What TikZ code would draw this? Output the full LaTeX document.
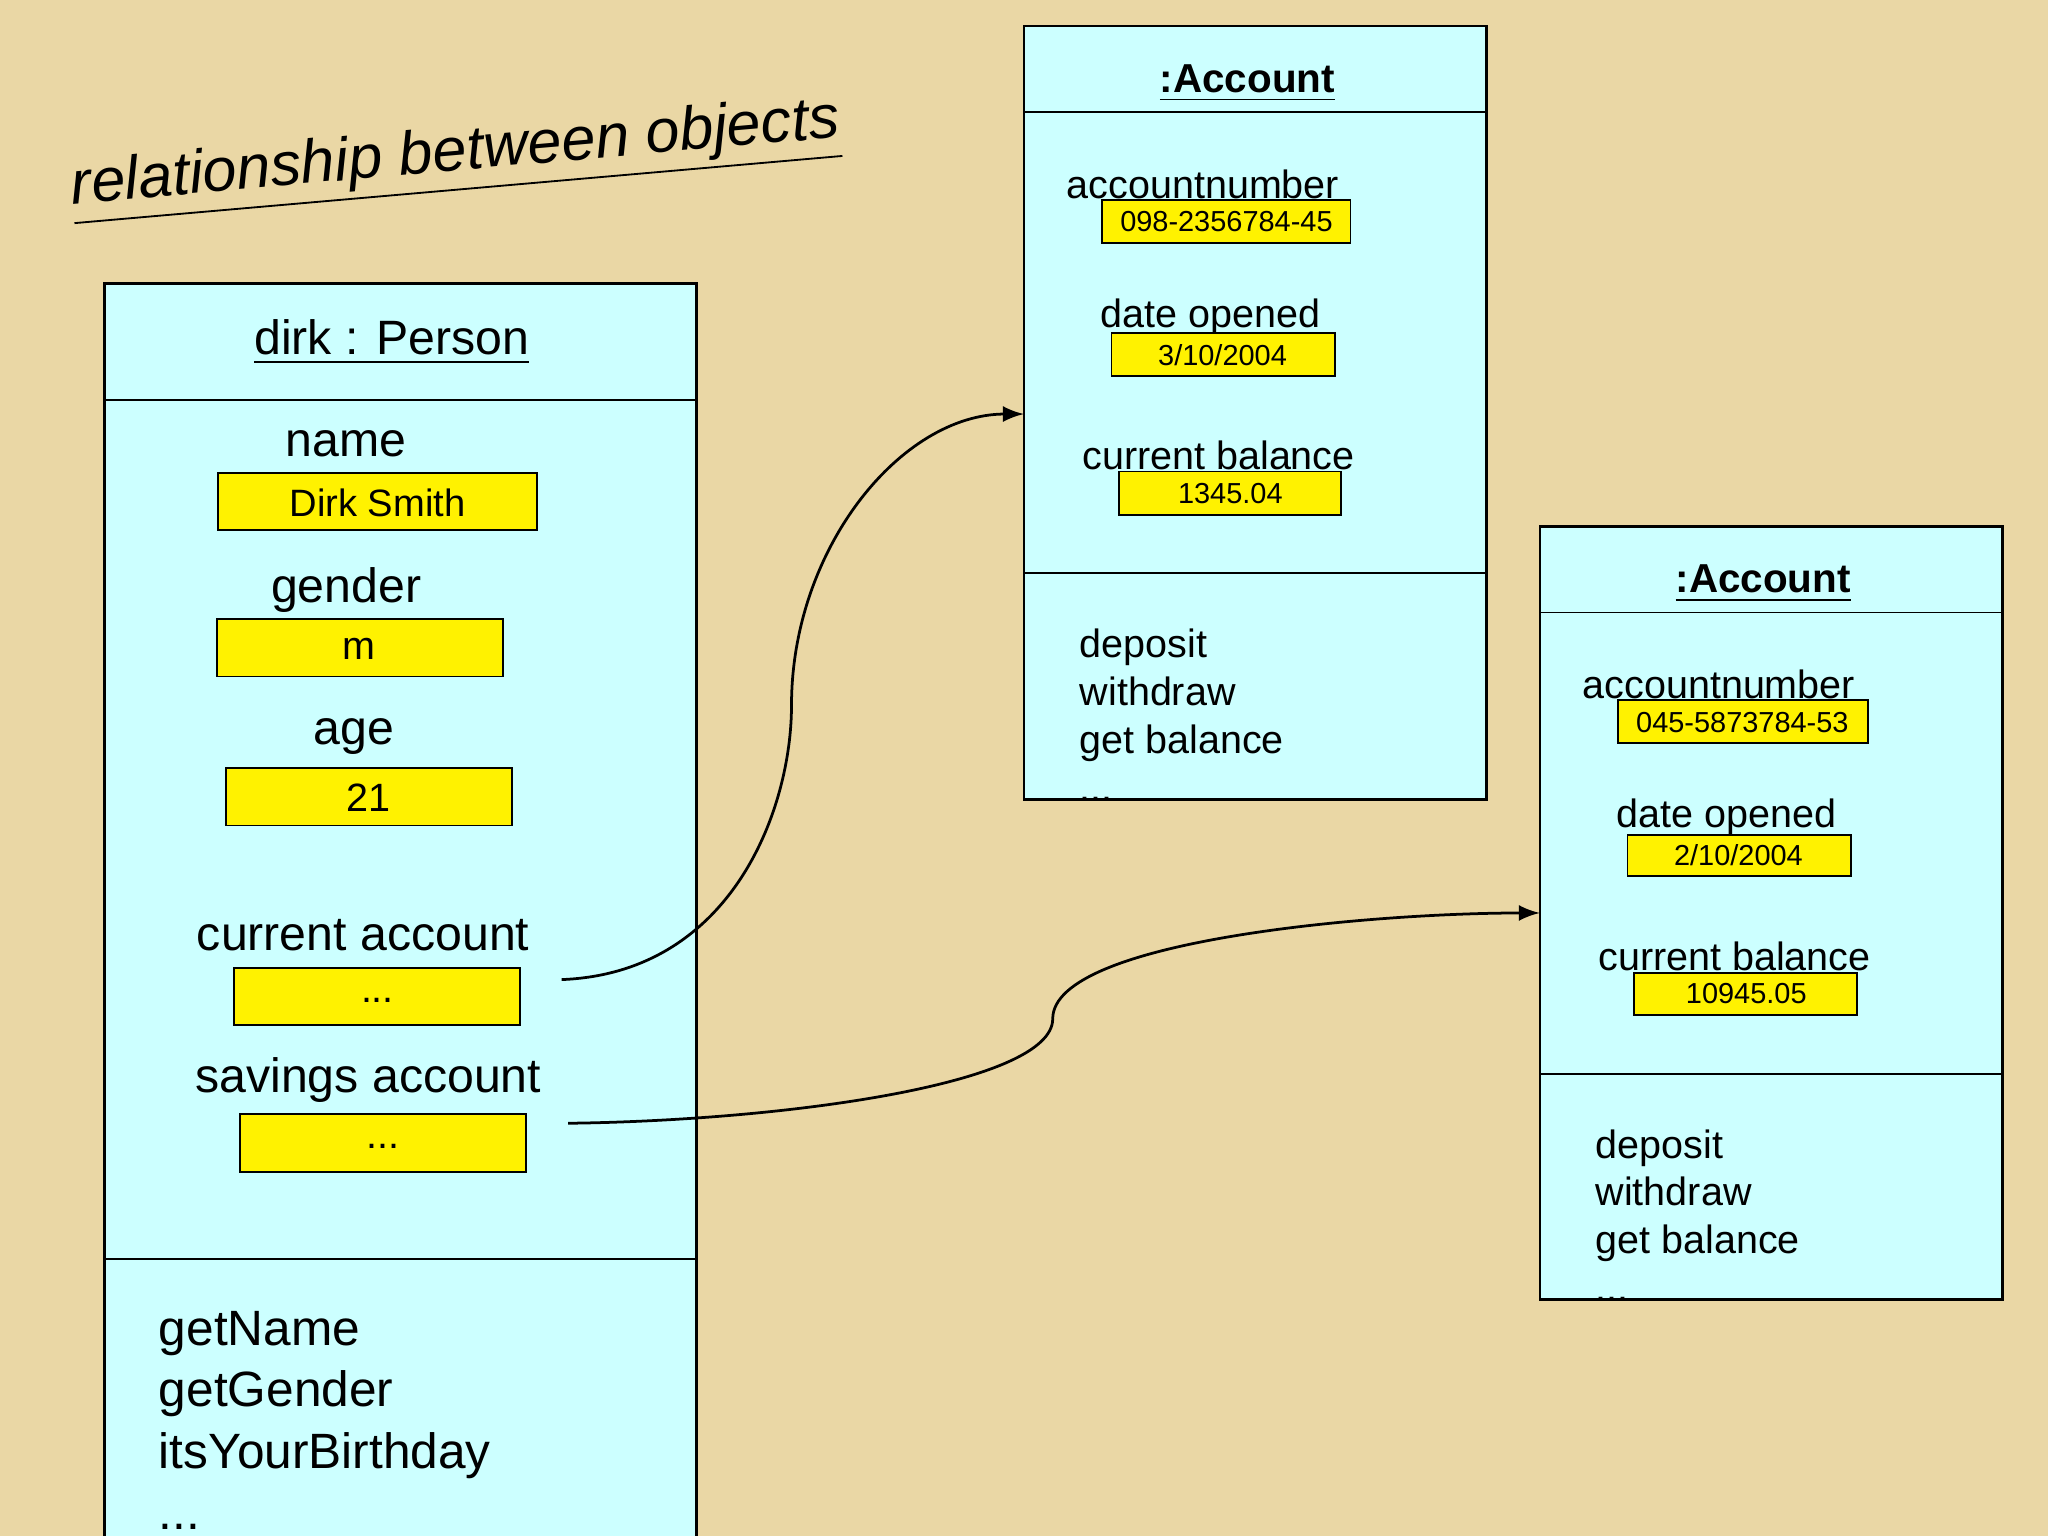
\documentclass[tikz,border=0pt]{standalone}
\usepackage{fontspec}
\setmainfont{Liberation Sans}
\definecolor{paper}{HTML}{EAD7A5}
\definecolor{objfill}{HTML}{CCFFFF}
\begin{document}
\begin{tikzpicture}[x=0.01cm,y=-0.01cm,
  obj/.style={draw,line width=0.6pt,fill=objfill},
  big/.style={font=\fontsize{10.5}{12}\selectfont},
  mid/.style={font=\fontsize{8.6}{10.4}\selectfont},
  sm/.style={font=\fontsize{6.3}{7.5}\selectfont},
  link/.style={line width=0.6pt,-latex}]
\fill[paper] (0,0) rectangle (1568,1176);
\useasboundingbox (0,0) rectangle (1568,1176);
\node[rotate=5,font=\fontsize{13.3}{15}\selectfont\itshape] (title) at (349,122) {\underline{relationship between objects}};
% Person
\draw[obj] (80,1176) -- (80,217) -- (533,217) -- (533,1176);
\draw (80,306) -- (533,306) (80,964) -- (533,964);
\node[big] (pt) at (300,262) {\underline{dirk : Person}};
\node[big] (l1) at (265,340) {name};
\draw[fill=yellow] (167,362) rectangle (411,406);
\node[font=\fontsize{8.3}{10}\selectfont] (t1) at (289,385) {Dirk Smith};
\node[big] (l2) at (265,452) {gender};
\draw[fill=yellow] (166,474) rectangle (385,518);
\node[mid] (t2) at (275,497) {m};
\node[big] (l3) at (271,564) {age};
\draw[fill=yellow] (173,588) rectangle (392,632);
\node[mid] (t3) at (282,611) {21};
\node[big] (l4) at (278,716) {current account};
\draw[fill=yellow] (179,741) rectangle (398,785);
\node[mid] (t4) at (289,766) {...};
\node[big] (l5) at (282,827) {savings account};
\draw[fill=yellow] (184,853) rectangle (403,897);
\node[mid] (t5) at (293,878) {...};
\node[font=\fontsize{10.8}{13.4}\selectfont,align=left,anchor=north west,inner sep=0pt] (m1) at (121,1003) {getName\\getGender\\itsYourBirthday\\...};
% Account 1
\draw[obj] (784,20) rectangle (1138,612);
\draw (784,86) -- (1138,86) (784,439) -- (1138,439);
\node[font=\fontsize{8.8}{10}\selectfont\bfseries] (a1) at (955,64) {\underline{:Account}};
\node[mid] (n1) at (921,141) {accountnumber};
\draw[fill=yellow] (844,153) rectangle (1034,186);
\node[sm] (v1) at (939,170) {098-2356784-45};
\node[mid] (n2) at (927,243) {date opened};
\draw[fill=yellow] (851,255) rectangle (1022,288);
\node[sm] (v2) at (936,272) {3/10/2004};
\node[mid] (n3) at (933,349) {current balance};
\draw[fill=yellow] (857,361) rectangle (1027,394);
\node[sm] (v3) at (942,378) {1345.04};
\node[mid,align=left,anchor=north west,inner sep=0pt] (m2) at (826,481) {deposit\\withdraw\\get balance\\...};
% Account 2
\draw[obj] (1179,403) rectangle (1533,995);
\draw (1179,469) -- (1533,469) (1179,822) -- (1533,822);
\node[font=\fontsize{8.8}{10}\selectfont\bfseries] (a2) at (1350,447) {\underline{:Account}};
\node[mid] (n4) at (1316,524) {accountnumber};
\draw[fill=yellow] (1239,536) rectangle (1430,569);
\node[sm] (v4) at (1334,553) {045-5873784-53};
\node[mid] (n5) at (1322,626) {date opened};
\draw[fill=yellow] (1246,639) rectangle (1417,671);
\node[sm] (v5) at (1331,655) {2/10/2004};
\node[mid] (n6) at (1328,732) {current balance};
\draw[fill=yellow] (1251,745) rectangle (1422,777);
\node[sm] (v6) at (1337,761) {10945.05};
\node[mid,align=left,anchor=north west,inner sep=0pt] (m3) at (1221,864) {deposit\\withdraw\\get balance\\...};
% links
\coordinate (s1) at (430,750);
\coordinate (e1) at (784,317);
\coordinate (s2) at (435,860);
\coordinate (e2) at (1179,699);
\draw[link] (s1) .. controls (560,745) and (606,620) .. (606,540) .. controls (606,420) and (690,317) .. (e1);
\draw[link] (s2) .. controls (600,858) and (806,830) .. (806,780) .. controls (806,720) and (1050,699) .. (e2);
\end{tikzpicture}
\end{document}
